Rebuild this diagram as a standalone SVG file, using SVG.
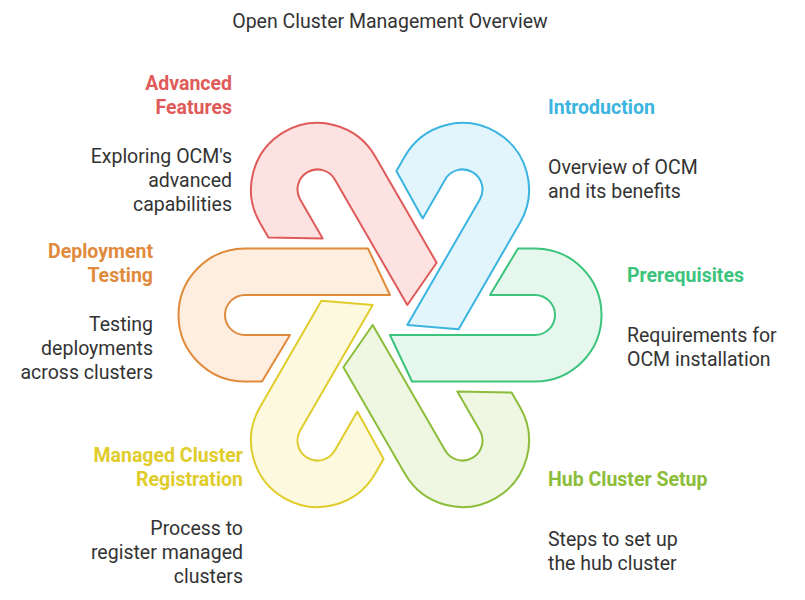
<svg xmlns="http://www.w3.org/2000/svg" width="805" height="600" viewBox="0 0 805 600">
<style>
text{font-family:"Roboto","Liberation Sans",sans-serif;font-size:19.5px;fill:#333}
.h{font-weight:bold}
.r{text-anchor:end}
.s{stroke-width:2;stroke-linejoin:round}
</style>
<defs>
<path id="hook" d="M-145,-66.5 L-22,-66.5 L0,-20 L-145,-20 A20,20 0 0 0 -145,20 L-100,20 L-128,66.5 L-145,66.5 A66.5,66.5 0 0 1 -145,-66.5 Z"/>
</defs>
<rect width="805" height="600" fill="#fff"/>
<text x="390" y="28" text-anchor="middle">Open Cluster Management Overview</text>
<g transform="translate(390,315)">
<g id="yellow"><use href="#hook" transform="rotate(300)" fill="#fcf9de" stroke="#e0cc2a" class="s"/></g>
<g id="lime"><use href="#hook" transform="rotate(240)" fill="#eff6e2" stroke="#8cbd3a" class="s"/></g>
<g id="green"><use href="#hook" transform="rotate(180)" fill="#e6f8ee" stroke="#3cc47c" class="s"/></g>
<g id="blue"><use href="#hook" transform="rotate(120)" fill="#e2f5fc" stroke="#3bb5e0" class="s"/></g>
<g id="red"><use href="#hook" transform="rotate(60)" fill="#fde2e2" stroke="#e05a5a" class="s"/></g>
<g id="orange"><use href="#hook" fill="#fdeee0" stroke="#e08a3c" class="s"/></g>
</g>
<g id="n-adv"><text class="h r" x="232" y="90" style="fill:#e05a5a">Advanced</text><text class="h r" x="232" y="114" style="fill:#e05a5a">Features</text>
<text class="r" x="232" y="163">Exploring OCM's</text><text class="r" x="232" y="187">advanced</text><text class="r" x="232" y="211">capabilities</text></g>
<g id="n-intro"><text class="h" x="548" y="114" style="fill:#3bb5e0">Introduction</text>
<text x="548" y="174">Overview of OCM</text><text x="548" y="198">and its benefits</text></g>
<g id="n-dep"><text class="h r" x="153" y="258" style="fill:#e08a3c">Deployment</text><text class="h r" x="153" y="282" style="fill:#e08a3c">Testing</text>
<text class="r" x="153" y="331">Testing</text><text class="r" x="153" y="355">deployments</text><text class="r" x="153" y="379">across clusters</text></g>
<g id="n-pre"><text class="h" x="627" y="282" style="fill:#3cc47c">Prerequisites</text>
<text x="627" y="342">Requirements for</text><text x="627" y="366">OCM installation</text></g>
<g id="n-man"><text class="h r" x="243" y="462" style="fill:#e0cc2a">Managed Cluster</text><text class="h r" x="243" y="486" style="fill:#e0cc2a">Registration</text>
<text class="r" x="243" y="535">Process to</text><text class="r" x="243" y="559">register managed</text><text class="r" x="243" y="583">clusters</text></g>
<g id="n-hub"><text class="h" x="548" y="486" style="fill:#8cbd3a">Hub Cluster Setup</text>
<text x="548" y="546">Steps to set up</text><text x="548" y="570">the hub cluster</text></g>
</svg>
